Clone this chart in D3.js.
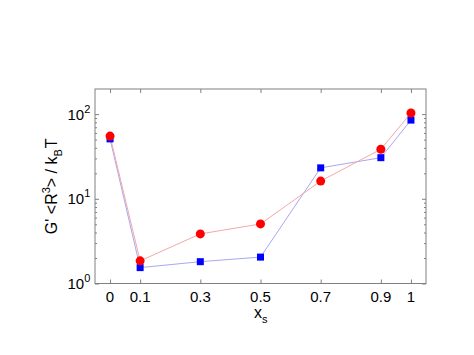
<!DOCTYPE html>
<html><head><meta charset="utf-8">
<script src="https://cdn.jsdelivr.net/npm/d3@7"></script>
<style>body{margin:0;background:#fff;} text{font-family:"Liberation Sans",Arial,sans-serif;}</style>
</head><body>
<svg id="c" width="474" height="355"></svg>
<script>
const xs = [0, 0.1, 0.3, 0.5, 0.7, 0.9, 1];
const redSeries = [55, 1.85, 3.85, 5.05, 16.2, 38.5, 103];
const blueSeries = [51, 1.54, 1.81, 2.05, 23.2, 30.6, 85];
const xTicks = [0, 0.1, 0.3, 0.5, 0.7, 0.9, 1];
const xTickLabels = ["0", "0.1", "0.3", "0.5", "0.7", "0.9", "1"];
const yMajor = [1, 10, 100];
const yMajorExp = ["0", "1", "2"];

const svg = d3.select("#c");
const L = 95, R = 426, T = 89, B = 283.5;
const x = d3.scaleLinear().domain([-0.05, 1.05]).range([L, R]);
const y = d3.scaleLog().domain([1, 198]).range([B, T]);

const minor = [];
[1, 10, 100].forEach(d => { for (let k = 2; k <= 9; k++) { const v = d * k; if (v < 198) minor.push(v); } });

const axisColor = "#808080";
function style(g) {
  g.select(".domain").remove();
  g.selectAll("line").attr("stroke", axisColor);
}
svg.append("g").attr("transform", `translate(0,${B})`)
  .call(d3.axisBottom(x).tickValues(xTicks).tickSize(-4).tickFormat("")).call(style);
svg.append("g").attr("transform", `translate(0,${T})`)
  .call(d3.axisTop(x).tickValues(xTicks).tickSize(-4).tickFormat("")).call(style);
svg.append("g").attr("transform", `translate(${L},0)`)
  .call(d3.axisLeft(y).tickValues(yMajor).tickSize(-4).tickFormat("")).call(style);
svg.append("g").attr("transform", `translate(${R},0)`)
  .call(d3.axisRight(y).tickValues(yMajor).tickSize(-4).tickFormat("")).call(style);
svg.append("g").attr("transform", `translate(${L},0)`)
  .call(d3.axisLeft(y).tickValues(minor).tickSize(-2).tickFormat("")).call(style);
svg.append("g").attr("transform", `translate(${R},0)`)
  .call(d3.axisRight(y).tickValues(minor).tickSize(-2).tickFormat("")).call(style);

svg.append("rect").attr("x", L).attr("y", T).attr("width", R - L).attr("height", B - T)
  .attr("fill", "none").attr("stroke", axisColor).attr("stroke-width", 1);

// x tick labels
svg.append("g").selectAll("text").data(xTicks).join("text")
  .attr("x", d => x(d)).attr("y", 302).attr("text-anchor", "middle")
  .attr("font-size", 15).attr("fill", "#000")
  .text((d, i) => xTickLabels[i]);

// y tick labels
yMajor.forEach((v, i) => {
  const t = svg.append("text").attr("x", 67.5).attr("y", y(v) + 5.5)
    .attr("font-size", 15).attr("fill", "#000");
  t.append("tspan").text("10");
  t.append("tspan").attr("dy", -7).attr("font-size", 11).text(yMajorExp[i]);
});

// axis labels
const xl = svg.append("text").attr("x", 254).attr("y", 318).attr("font-size", 16).attr("fill", "#000");
xl.append("tspan").text("x");
xl.append("tspan").attr("dy", 5).attr("font-size", 11).text("s");

const yl = svg.append("text").attr("transform", `translate(57,${(T + B) / 2}) rotate(-90)`)
  .attr("text-anchor", "middle").attr("font-size", 16).attr("fill", "#000");
yl.append("tspan").text("G' <R");
yl.append("tspan").attr("dy", -7).attr("font-size", 11).text("3");
yl.append("tspan").attr("dy", 7).text("> / k");
yl.append("tspan").attr("dy", 5).attr("font-size", 11).text("B");
yl.append("tspan").attr("dy", -5).attr("dx", 1).text("T");

const line = d3.line().x((d, i) => x(xs[i])).y(d => y(d));
svg.append("path").datum(blueSeries).attr("d", line).attr("fill", "none")
  .attr("stroke", "#a8a8f0").attr("stroke-width", 1);
svg.append("path").datum(redSeries).attr("d", line).attr("fill", "none")
  .attr("stroke", "#f4a8a8").attr("stroke-width", 1);

svg.append("g").selectAll("rect").data(blueSeries).join("rect")
  .attr("x", (d, i) => x(xs[i]) - 3.5).attr("y", d => y(d) - 3.5)
  .attr("width", 7).attr("height", 7).attr("fill", "#0000ff");
svg.append("g").selectAll("circle").data(redSeries).join("circle")
  .attr("cx", (d, i) => x(xs[i])).attr("cy", d => y(d)).attr("r", 4.5).attr("fill", "#ff0000");
</script>
</body></html>
